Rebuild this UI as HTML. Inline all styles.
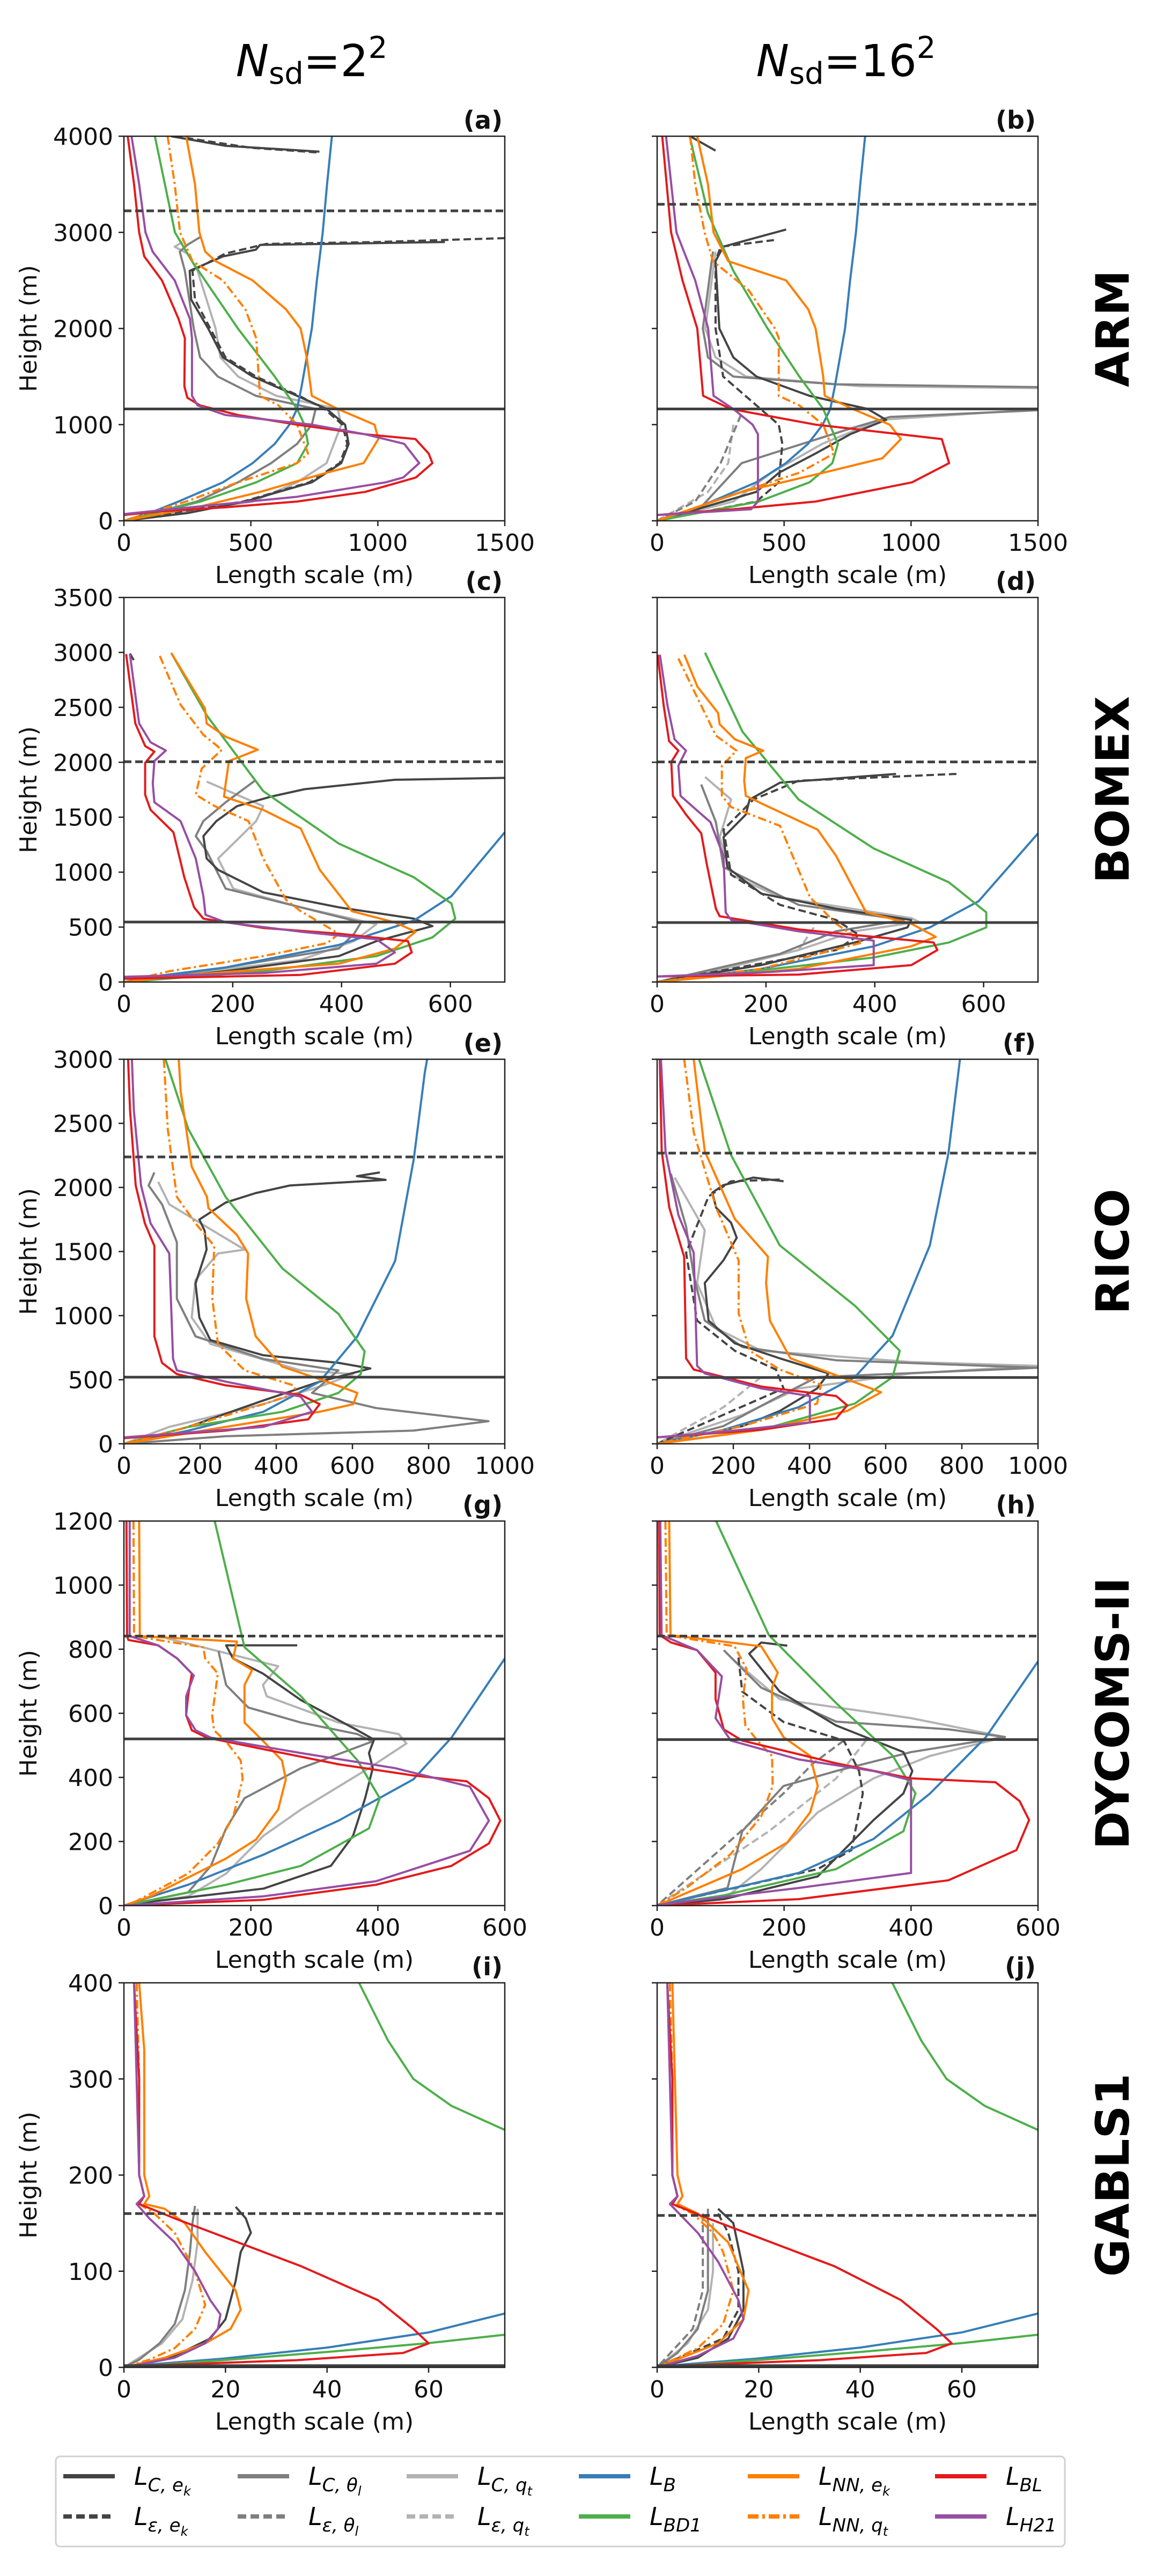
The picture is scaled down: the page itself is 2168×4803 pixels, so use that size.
<!DOCTYPE html>
<html><head><meta charset="utf-8">
<style>
html,body{margin:0;padding:0;background:#fff;}
svg{display:block;font-family:"DejaVu Sans","Liberation Sans",sans-serif;}
</style></head>
<body>
<svg id="S" xmlns="http://www.w3.org/2000/svg" width="2168" height="4803" viewBox="0 0 2168 4803">
<rect width="2168" height="4803" fill="#fff"/>
<text x="581" y="142" font-size="82" text-anchor="middle"><tspan font-style="italic">N</tspan><tspan font-size="56" dy="14">sd</tspan><tspan dy="-14">=2</tspan><tspan font-size="56" dy="-34">2</tspan></text>
<text x="1577" y="142" font-size="82" text-anchor="middle"><tspan font-style="italic">N</tspan><tspan font-size="56" dy="14">sd</tspan><tspan dy="-14">=16</tspan><tspan font-size="56" dy="-34">2</tspan></text>
<g id="G"></g>
<rect x="104" y="4580" width="1881" height="168" rx="8" fill="#fff" stroke="#d0d0d0" stroke-width="3"/>
<g id="L" font-size="46" font-style="italic"></g>
</svg>
<script>
var NS="http://www.w3.org/2000/svg";
var G=document.getElementById('G');
function el(t,a,p,txt){if(typeof p==='string'){txt=p;p=null;}var e=document.createElementNS(NS,t);for(var k in a)e.setAttribute(k,a[k]);if(txt!=null)e.textContent=txt;(p||G).appendChild(e);return e;}
var ST={ce:['#444444',''],ee:['#444444','14,7'],ct:['#7f7f7f',''],et:['#7f7f7f','14,7'],cq:['#b3b3b3',''],eq:['#b3b3b3','14,7'],
B:['#377eb8',''],BD:['#4daf4a',''],NN:['#ff7f00',''],NQ:['#ff7f00','16,6,4,6'],BL:['#e41a1c',''],H:['#984ea3','']};
var ORDER=['cq','eq','ct','et','ce','ee','B','BD','NN','NQ','BL','H'];
var COLX=[231,1225],ROWY=[254,1114,1975,2836,3697],W=710,HH=717;
var BA=[819,4000,800,3500,783,3000,760,2500,740,2000,700,1400,682,1163,652,1000,594,800,507,600,390,400,215,200,120,100,0,0];
var P=[
{c:0,r:0,xm:1500,ym:4000,xt:[0,500,1000,1500],yt:[0,1000,2000,3000,4000],hs:1163,hd:3224,lab:'(a)',s:{
BL:[15,4000,40,3500,60,3000,80,2750,150,2500,215,2100,240,1900,238,1400,250,1280,300,1200,450,1100,682,1000,950,900,1148,850,1200,700,1215,600,1150,450,950,300,682,200,400,140,150,100,0,60],
H:[30,4000,60,3500,85,3000,113,2800,200,2500,260,2100,268,1900,268,1300,290,1200,400,1100,740,1000,950,900,1104,800,1163,600,1100,450,1031,400,682,250,300,150,0,70],
B:BA,
BD:[122,4000,201,3000,268,2700,449,2000,594,1500,682,1163,711,1000,725,800,682,600,521,400,303,200,120,80,0,0],
NN:[245,4000,280,3500,297,3000,320,2800,361,2700,507,2500,638,2200,696,2000,720,1700,740,1300,842,1163,987,1000,1002,850,944,600,798,500,536,300,303,150,0,0],
NQ:[172,4000,200,3500,221,3000,270,2700,390,2500,478,2200,521,1900,536,1300,609,1200,682,1000,725,700,682,600,449,400,245,200,0,0],
ce:[[186,4000,400,3900,770,3840],[1264,2900,800,2880,536,2870,520,2820,390,2750,259,2600,265,2300,332,2000,390,1700,507,1500,682,1300,798,1163,871,1000,885,800,856,600,740,400,478,200,250,80,0,0]],
ee:[[200,4000,500,3880,770,3830],[1500,2940,1000,2900,560,2880,400,2780,270,2600,280,2300,340,2000,400,1700,520,1500,690,1300,790,1163,860,1000,880,800,850,600,730,400,470,200,0,0]],
ct:[300,2950,250,2870,220,2800,240,2600,275,2000,300,1700,370,1500,520,1300,755,1163,740,1000,682,800,580,600,449,400,288,200,0,0],
cq:[230,2900,200,2850,250,2780,290,2600,361,2000,380,1700,450,1500,600,1300,842,1163,856,1000,827,800,798,600,682,400,507,200,0,0]}},
{c:1,r:0,xm:1500,ym:4000,xt:[0,500,1000,1500],yt:[0,1000,2000,3000,4000],hs:1163,hd:3292,lab:'(b)',s:{
BL:[20,4000,55,3000,100,2500,158,2000,181,1300,290,1163,625,1000,1121,850,1150,600,1004,400,625,200,300,120,0,60],
H:[35,4000,76,3000,150,2500,201,2000,222,1300,300,1163,376,1000,397,900,397,200,370,120,0,60],
B:BA,
BD:[128,4000,200,3200,300,2600,435,2000,560,1500,654,1163,712,800,690,600,600,400,400,200,0,0],
NN:[158,4000,200,3500,222,3000,280,2700,508,2500,595,2200,624,2000,654,1500,660,1300,770,1163,916,1000,960,850,887,650,654,500,333,300,0,0],
NQ:[130,4000,150,3500,187,3000,220,2700,360,2400,464,2000,479,1900,479,1300,560,1200,654,1000,697,700,560,500,330,300,0,0],
ce:[[130,4000,230,3850],[508,3030,300,2880,260,2850,230,2700,245,2000,300,1700,391,1500,600,1300,829,1163,902,1050,760,900,624,700,480,500,390,300,0,0]],
ee:[[460,2920,250,2850,230,2700,230,2000,260,1500,391,1200,479,1000,493,800,479,400,391,200,0,0]],
ct:[[220,2800,180,2000,200,1700,300,1500,700,1420,1500,1390],[1500,1150,916,1080,750,950,333,600,158,100,0,0]],
cq:[[230,2800,190,2000,230,1700,350,1500,800,1400,1500,1380],[1500,1160,880,1050,650,800,450,500,300,200,0,0]],
eq:[300,1000,280,600,200,300,0,0],et:[330,1100,250,600,150,200,0,0]}},
{c:0,r:1,xm:700,ym:3500,xt:[0,200,400,600],yt:[0,500,1000,1500,2000,2500,3000,3500],hs:546,hd:2005,lab:'(c)',s:{
BL:[4,2985,21,2353,39,2148,56,2097,39,1994,39,1704,49,1567,91,1363,111,953,129,680,146,577,256,492,395,440,522,372,529,270,498,167,325,65,0,30],
H:[11,2985,28,2353,49,2182,77,2107,56,2011,53,1807,56,1636,104,1465,132,1124,146,782,150,611,187,543,325,458,464,389,498,270,464,167,256,82,0,48],
B:[700,1363,602,782,533,560,395,338,187,133,49,48,0,0],
BD:[87,2995,153,2421,256,1738,395,1260,533,953,602,714,609,577,567,406,464,236,256,99,0,0],
NN:[87,2995,149,2490,152,2353,187,2233,246,2114,193,2011,187,1807,184,1687,256,1567,325,1397,360,1021,419,645,498,543,536,458,498,304,395,167,118,65,0,0],
NQ:[66,2968,104,2524,146,2250,180,2114,143,1943,132,1704,167,1601,229,1465,256,1124,298,748,325,645,395,440,374,355,256,236,84,99,0,0],
ce:[[11,2990,18,2930],[700,1858,498,1841,332,1755,270,1687,208,1601,170,1465,146,1328,152,1124,173,1021,256,816,395,680,533,577,567,509,464,372,395,236,187,99,0,0]],
ct:[243,1841,187,1636,146,1465,132,1328,152,1192,187,850,325,680,436,543,423,440,395,304,187,133,0,0],
cq:[152,1824,256,1601,243,1465,201,1260,173,1124,201,850,325,680,464,526,423,372,325,201,0,0]}},
{c:1,r:1,xm:700,ym:3500,xt:[0,200,400,600],yt:[0,500,1000,1500,2000,2500,3000,3500],hs:541,hd:2003,lab:'(d)',s:{
BL:[1,2979,12,2517,22,2192,39,2106,26,2003,29,1695,53,1524,81,1353,91,1079,108,668,115,599,260,479,398,411,508,360,515,291,467,154,260,68,0,51],
H:[5,2979,19,2517,32,2209,53,2106,39,1969,43,1695,74,1558,98,1455,122,1147,126,634,136,565,260,462,398,377,398,154,191,86,0,51],
B:[700,1353,591,736,501,497,398,325,191,120,0,0],
BD:[88,2997,157,2277,260,1661,398,1216,536,908,605,634,605,497,536,360,398,223,0,0],
NN:[50,2979,74,2688,112,2449,115,2346,143,2209,195,2106,163,2038,160,1832,163,1695,191,1627,295,1387,329,1147,384,634,467,531,512,411,467,325,260,120,0,0],
NQ:[39,2945,74,2586,108,2243,146,2106,119,1969,119,1695,136,1593,226,1421,281,771,329,531,377,360,191,120,0,0],
ce:[439,1894,226,1815,170,1661,163,1524,122,1318,129,1045,191,805,329,668,467,565,460,497,363,360,191,154,0,0],
ee:[550,1894,260,1832,177,1661,122,1387,136,976,226,702,329,565,371,428,329,291,0,0],
cq:[88,1866,136,1661,115,1318,136,976,226,771,467,582,481,548,363,462,260,291,122,120,0,0],
ct:[81,1798,108,1455,122,1045,260,702,453,565,329,462,226,257,0,0],
eq:[288,497,260,291,0,0]}},
{c:0,r:2,xm:1000,ym:3000,xt:[0,200,400,600,800,1000],yt:[0,500,1000,1500,2000,2500,3000],hs:520,hd:2238,lab:'(e)',s:{
B:[796,3000,790,2897,761,2220,712,1426,613,838,514,485,366,250,169,103,0,0],
BD:[109,3000,169,2456,267,1926,416,1368,563,1015,632,721,622,544,563,397,416,250,169,132,0,0],
NN:[144,3000,149,2750,178,2162,218,1926,222,1838,296,1632,326,1485,321,1132,346,838,415,603,533,485,613,397,602,309,514,250,267,132,0,0],
NQ:[105,3000,115,2456,139,1926,188,1720,237,1544,232,1132,247,779,317,573,445,456,455,397,366,309,169,132,0,0],
BL:[11,3000,16,2603,31,2015,55,1720,80,1544,80,838,100,632,139,544,267,456,464,382,514,309,484,191,267,103,0,44],
H:[21,3000,26,2603,45,2015,70,1720,119,1485,129,662,139,573,267,485,464,368,494,250,366,132,0,50],
ce:[672,2117,612,2088,687,2059,435,2015,346,1956,267,1882,198,1750,212,1662,217,1515,188,1250,198,985,227,809,366,691,563,632,647,588,514,485,366,338,169,132,0,0],
ct:[80,2117,65,2015,100,1868,139,1573,139,1132,188,838,366,662,563,573,494,397,662,279,957,176,760,103,267,59,0,0],
cq:[90,2044,119,1868,267,1603,317,1515,247,1485,188,1279,178,985,227,779,464,573,602,544,524,456,366,309,119,132,0,0]}},
{c:1,r:2,xm:1000,ym:3000,xt:[0,200,400,600,800,1000],yt:[0,500,1000,1500,2000,2500,3000],hs:517,hd:2268,lab:'(f)',s:{
B:[795,3000,765,2268,716,1548,618,843,519,520,371,285,174,109,0,0],
BD:[110,3000,194,2253,322,1548,519,1078,637,726,618,520,519,314,273,109,0,0],
NN:[96,3000,125,2283,204,1754,291,1460,286,1255,296,961,350,667,470,535,588,402,499,256,273,109,0,0],
NQ:[71,3000,96,2430,155,1842,214,1431,214,1019,243,726,322,579,430,461,420,314,224,138,0,0],
BL:[7,3000,12,2283,32,1842,71,1460,76,667,96,579,273,447,470,373,499,300,470,197,273,109,0,50],
H:[10,3000,22,2283,56,1783,96,1490,105,608,125,549,273,432,401,373,401,167,174,94,0,50],
ce:[332,2048,253,2077,174,2018,145,1960,155,1842,194,1725,209,1607,174,1431,125,1255,135,961,204,784,322,667,450,549,420,432,322,256,224,138,0,0],
ee:[322,2062,194,2048,135,1930,76,1490,105,961,204,726,312,579,332,432,0,0],
ct:[36,2107,76,1695,96,1313,125,961,224,755,470,652,1000,593,765,564,420,520,322,373,174,138,0,0],
cq:[46,2077,125,1666,105,1255,155,902,273,726,667,638,1000,608,667,549,371,432,224,226,0,0],
eq:[273,520,174,285,0,0]}},
{c:0,r:3,xm:600,ym:1200,xt:[0,200,400,600],yt:[0,200,400,600,800,1000,1200],hs:520,hd:841,lab:'(g)',s:{
BL:[4,1200,5,841,7,829,54,812,84,771,107,724,101,653,98,594,107,547,131,524,220,488,338,441,456,406,540,388,575,335,593,265,575,194,516,124,397,65,220,18,0,0],
H:[9,1200,9,841,54,812,84,771,110,718,98,653,98,594,113,547,137,524,279,476,427,429,545,371,575,265,545,171,397,76,220,29,0,0],
B:[600,771,516,524,456,394,338,265,220,159,101,65,0,0],
BD:[143,1200,190,806,279,653,368,453,403,335,386,241,279,124,161,65,0,0],
NN:[24,1200,25,841,178,824,172,771,202,735,190,688,190,571,220,512,249,453,255,394,243,300,208,206,161,147,42,29,0,0],
NQ:[15,1200,16,841,125,806,128,771,148,724,139,594,142,547,161,512,184,453,187,394,172,276,148,194,101,100,18,12,0,0],
ce:[273,812,161,812,172,771,219,724,279,641,368,547,394,518,386,476,392,429,380,335,361,218,326,124,220,53,42,12,0,0],
ct:[149,794,161,688,196,618,279,571,368,535,391,512,279,429,190,335,161,241,137,124,101,41,0,0],
cq:[66,835,243,747,219,688,225,653,338,571,433,535,445,506,386,429,279,300,220,218,161,100,101,29,0,0]}},
{c:1,r:3,xm:600,ym:1200,xt:[0,200,400,600],yt:[0,200,400,600,800,1000,1200],hs:518,hd:841,lab:'(h)',s:{
BL:[3,1200,4,844,22,821,63,797,92,727,92,644,105,550,134,515,282,444,400,397,533,385,571,326,586,267,566,173,459,79,223,20,0,0],
H:[5,1200,7,844,63,797,102,715,92,585,116,515,223,456,341,420,400,391,400,102,223,55,0,2],
B:[600,762,518,526,430,350,341,208,223,102,0,0],
BD:[93,1200,176,844,282,632,371,468,407,350,388,232,282,114,105,32,0,0],
NN:[19,1200,21,844,164,809,190,727,181,680,181,585,199,526,241,467,253,373,241,291,205,197,134,114,0,0],
NQ:[13,1200,15,844,122,809,141,738,135,644,139,562,158,515,181,467,182,373,164,279,116,161,46,55,0,0],
ce:[205,811,164,821,145,786,193,668,282,562,388,479,402,420,388,350,341,267,294,173,253,91,105,20,0,0],
ee:[128,774,134,668,199,573,294,515,318,420,324,350,306,173,253,114,0,0],
ct:[105,797,164,680,282,574,459,550,548,526,400,479,282,420,199,373,134,232,111,55,0,0],
cq:[116,774,193,644,400,585,548,526,430,467,341,397,253,291,164,114,105,20,0,0],
et:[294,515,246,444,199,350,0,0],eq:[329,515,282,397,176,232,0,0]}},
{c:0,r:4,xm:75,ym:400,xt:[0,20,40,60],yt:[0,100,200,300,400],hs:1,hd:160,lab:'(i)',s:{
BL:[2,400,3,300,3,200,4,178,3,170,10,155,20,135,35,105,50,70,57,40,60,25,55,15,34,7.5,5,2,0,0],
H:[2,400,2.5,300,3,200,4,178,2.5,170,5,155,10,130,14,100,17,70,19,55,18.5,40,16,25,10,10,0,0],
NN:[3,400,4,330,4,200,5,178,4,170,8,165,12,150,16,120,22,80,23,60,21,40,16,25,8,10,0,0],
NQ:[2.5,400,3,300,3,200,4,178,3,170,6,160,10,140,14,100,16,65,14,40,10,20,5,8,0,0],
ce:[22,167,24,155,25,140,23,120,22,90,20,50,17,30,10,12,0,0],
ct:[14,168,13.5,150,13,120,12,80,10,45,7,25,3,8,0,0],
cq:[14.5,165,14.5,130,13.5,90,11.5,50,7.5,25,0,0],
B:[0,0,5,3,19.5,9.1,40,20.6,60,36.4,75,56],
BD:[[0,0,19.5,7.5,40,16,60,25.2,75,34],[46.3,400,52,340,57,300,64.5,272,75,247]]}},
{c:1,r:4,xm:75,ym:400,xt:[0,20,40,60],yt:[0,100,200,300,400],hs:1,hd:158,lab:'(j)',s:{
BL:[2,400,3,300,3,200,4,178,3,170,10,155,20,135,35,105,48,70,55,40,58,25,53,15,32,7.5,5,2,0,0],
H:[2,400,2.5,300,3,200,4,178,2.5,170,8,140,12,110,16,70,17,50,15,30,8,12,0,0],
NN:[3,400,3.5,300,4,200,5,178,4,170,8,160,14,130,18,80,17,50,12,25,0,0],
NQ:[2.5,400,3,300,3,200,4,178,3,170,7,160,11,140,13,120,15,80,13,45,8,20,0,0],
ce:[12,165,15,150,17,100,17,60,14,30,8,10,0,0],
ee:[12,160,14,140,16,100,16,60,13,30,0,0],
ct:[10,165,10,120,10,80,8,40,4,15,0,0],
et:[9,160,9,120,9,80,7,40,0,0],
cq:[11,150,11,100,10,60,6,25,0,0],
B:[0,0,5,3,19.5,9.1,40,20.6,60,36.4,75,56],
BD:[[0,0,19.5,7.5,40,16,60,25.2,75,34],[46.3,400,52,340,57,300,64.5,272,75,247]]}}
];
var NAMES=['ARM','BOMEX','RICO','DYCOMS-II','GABLS1'];
P.forEach(function(p){
  var X=COLX[p.c],Y=ROWY[p.r];
  function px(v){return X+v/p.xm*W;} function py(v){return Y+HH-v/p.ym*HH;}
  var clip=el('svg',{x:X,y:Y,width:W,height:HH,overflow:'hidden'});
  function lx(v){return v/p.xm*W;} function ly(v){return HH-v/p.ym*HH;}
  ORDER.forEach(function(k){
    var v=p.s[k]; if(!v)return;
    var segs=Array.isArray(v[0])?v:[v];
    segs.forEach(function(a){
      var d='';for(var i=0;i<a.length;i+=2)d+=(i?'L':'M')+lx(a[i]).toFixed(1)+','+ly(a[i+1]).toFixed(1);
      var at={d:d,fill:'none',stroke:ST[k][0],'stroke-width':4,'stroke-linejoin':'round'};
      if(ST[k][1])at['stroke-dasharray']=ST[k][1];
      el('path',at,clip);
    });
  });
  el('line',{x1:0,x2:W,y1:ly(p.hs),y2:ly(p.hs),stroke:'#404040','stroke-width':p.r==4?8:5},clip);
  el('line',{x1:0,x2:W,y1:ly(p.hd),y2:ly(p.hd),stroke:'#404040','stroke-width':5,'stroke-dasharray':'14,7'},clip);
  el('rect',{x:X,y:Y,width:W,height:HH,fill:'none',stroke:'#222','stroke-width':2.5});
  p.xt.forEach(function(t){var x=px(t);el('line',{x1:x,x2:x,y1:Y+HH,y2:Y+HH+10,stroke:'#222','stroke-width':2.5});
    el('text',{x:x,y:Y+HH+56,'font-size':44,'text-anchor':'middle',fill:'#111'},null,String(t));});
  p.yt.forEach(function(t){var y=py(t);el('line',{x1:X-10,x2:X,y1:y,y2:y,stroke:'#222','stroke-width':2.5});
    if(p.c==0)el('text',{x:X-20,y:y+16,'font-size':44,'text-anchor':'end',fill:'#111'},null,String(t));});
  el('text',{x:X+W/2,y:Y+HH+116,'font-size':44,'text-anchor':'middle',fill:'#111'},null,'Length scale (m)');
  el('text',{x:X+W-4,y:Y-14,'font-size':46,'font-weight':'bold','text-anchor':'end',fill:'#111'},null,p.lab);
  if(p.c==0){var cy=Y+HH/2;el('text',{x:68,y:cy,'font-size':44,'text-anchor':'middle',fill:'#111',transform:'rotate(-90 68 '+cy+')'},null,'Height (m)');
    el('text',{x:2104,y:cy,'font-size':86,'font-weight':'bold','text-anchor':'middle',fill:'#000',transform:'rotate(-90 2104 '+cy+')'},null,NAMES[p.r]);}
});
var L=document.getElementById('L');
var LEG=[['ce','C, ','e','k'],['ct','C, ','θ','l'],['cq','C, ','q','t'],['B','B','',''],['NN','NN, ','e','k'],['BL','BL','',''],
['ee','ε, ','e','k'],['et','ε, ','θ','l'],['eq','ε, ','q','t'],['BD','BD1','',''],['NQ','NN, ','q','t'],['H','H21','','']];
var LX=[118,443,758,1079,1394,1743];
LEG.forEach(function(g,i){
  var x=LX[i%6],y=i<6?4617:4692;
  var at={x1:x,x2:x+96,y1:y,y2:y,stroke:ST[g[0]][0],'stroke-width':8};
  if(ST[g[0]][1])at['stroke-dasharray']=g[0]=='NQ'?'20,7,5,7':'16,8';
  el('line',at,L);
  var t=el('text',{x:x+132,y:y+16},L);
  el('tspan',{},t,'L');
  el('tspan',{'font-size':34,dy:12},t,g[1]+g[2]);
  if(g[3])el('tspan',{'font-size':24,dy:8},t,g[3]);
});
</script>
</body></html>
